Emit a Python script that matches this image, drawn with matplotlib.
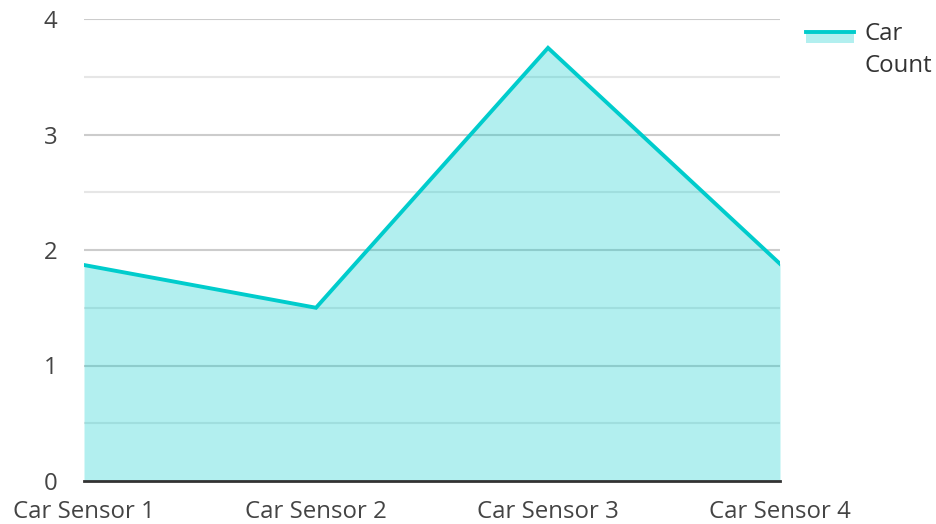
import matplotlib
matplotlib.use("Agg")
import matplotlib.pyplot as plt
from matplotlib.patches import Rectangle
from matplotlib.lines import Line2D

categories = ["Car Sensor 1", "Car Sensor 2", "Car Sensor 3", "Car Sensor 4"]
car_count = [1.87, 1.5, 3.75, 1.88]
series_name = "Car Count"
y_ticks = [0, 1, 2, 3, 4]
y_minor = [0.5, 1.5, 2.5, 3.5]

plt.rcParams['font.family'] = ['Open Sans', 'DejaVu Sans']

W, H = 936, 524
fig = plt.figure(figsize=(W / 100, H / 100), dpi=100)
ax = fig.add_axes([84 / W, 1 - 481 / H, (780 - 84) / W, (481 - 19) / H])

line_c = "#00CCCC"
fill_c = "#00CCCC"
fs = 17.3

x = list(range(len(categories)))
ax.set_xlim(0, len(categories) - 1)
ax.set_ylim(0, 4)

for y in y_ticks[1:]:
    ax.axhline(y, color="#cccccc", lw=1.5, zorder=1)
for y in y_minor:
    ax.axhline(y, color="#e6e6e6", lw=1.5, zorder=1)

ax.fill_between(x, car_count, 0, color=fill_c, alpha=0.3, lw=0, zorder=2)
ax.plot(x, car_count, color=line_c, lw=2.8, zorder=3, solid_joinstyle="miter")
ax.axhline(0, color="#333333", lw=2, zorder=4, clip_on=False)

ax.set_xticks(x)
ax.set_xticklabels(categories)
ax.set_yticks(y_ticks)
ax.tick_params(axis="both", length=0, labelsize=fs, colors="#444444")
ax.tick_params(axis="x", pad=14)
ax.tick_params(axis="y", pad=19)
for s in ax.spines.values():
    s.set_visible(False)

# legend drawn manually
fig.patches.append(Rectangle((806 / W, 1 - 43 / H), 48 / W, 12 / H,
                             transform=fig.transFigure, facecolor=fill_c,
                             alpha=0.3, lw=0))
fig.lines.append(Line2D([806 / W, 854 / W], [1 - 32 / H, 1 - 32 / H],
                        transform=fig.transFigure, color=line_c, lw=2.8))
for i, word in enumerate(series_name.split(" ")):
    fig.text(864 / W, 1 - (31 + 32 * i) / H, word, fontsize=fs, color="#333333",
             va="center_baseline", ha="left")

fig.savefig("out.png", dpi=100)
